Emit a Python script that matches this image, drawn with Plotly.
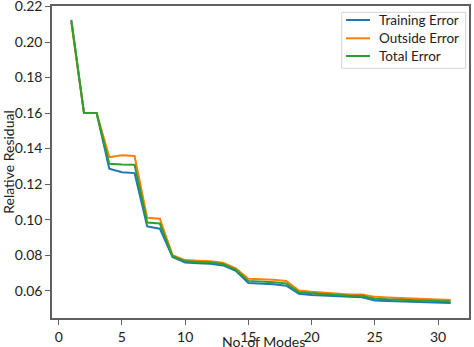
import plotly.graph_objects as go

modes = list(range(1, 32))
training_error = [0.2125, 0.1600, 0.1600, 0.1287, 0.1267, 0.1262, 0.0962, 0.0949, 0.0789, 0.0758,
                  0.0755, 0.0752, 0.0742, 0.0712, 0.0643, 0.0640, 0.0636, 0.0628, 0.0582, 0.0576,
                  0.0572, 0.0566, 0.0565, 0.0563, 0.0545, 0.0542, 0.0540, 0.0537, 0.0535, 0.0533,
                  0.0531]
outside_error = [0.2110, 0.1600, 0.1600, 0.1352, 0.1362, 0.1358, 0.1010, 0.1005, 0.0800, 0.0772,
                 0.0769, 0.0766, 0.0757, 0.0725, 0.0667, 0.0665, 0.0661, 0.0654, 0.0601, 0.0594,
                 0.0588, 0.0580, 0.0578, 0.0579, 0.0565, 0.0561, 0.0558, 0.0555, 0.0552, 0.0550,
                 0.0547]
total_error = [0.2118, 0.1600, 0.1600, 0.1315, 0.1311, 0.1309, 0.0984, 0.0978, 0.0795, 0.0765,
               0.0762, 0.0759, 0.0750, 0.0718, 0.0655, 0.0652, 0.0648, 0.0641, 0.0591, 0.0585,
               0.0580, 0.0573, 0.0571, 0.0571, 0.0555, 0.0551, 0.0549, 0.0546, 0.0543, 0.0541,
               0.0539]

series_names = ["Training Error", "Outside Error", "Total Error"]
series_values = [training_error, outside_error, total_error]
series_colors = ["#1f77b4", "#ff7f0e", "#2ca02c"]

x_ticks = [0, 5, 10, 15, 20, 25, 30]
y_ticks = [0.06, 0.08, 0.10, 0.12, 0.14, 0.16, 0.18, 0.20, 0.22]

W, H = 474, 347
ML, MR, MT, MB = 52, 5, 6, 29
PW, PH = W - ML - MR, H - MT - MB


def px_x(px):
    return (px - ML) / PW


def px_y(py):
    return (H - MB - py) / PH


fig = go.Figure()
for name, vals, color in zip(series_names, series_values, series_colors):
    fig.add_trace(go.Scatter(x=modes, y=vals, mode="lines", name=name,
                             line=dict(color=color, width=2), showlegend=False))

axis_common = dict(showline=True, linecolor="#606060", linewidth=1.5, mirror=True,
                   ticks="outside", ticklen=5, tickwidth=1.2, tickcolor="#606060",
                   showgrid=False, zeroline=False, ticklabeloverflow="allow",
                   tickfont=dict(family="Lato", size=14, color="#222222"))

# manual legend (box, sample lines, labels)
shapes = [dict(type="rect", xref="paper", yref="paper",
               x0=px_x(341.7), x1=px_x(465.7), y0=px_y(68.3), y1=px_y(12.3),
               line=dict(color="#d4d4d4", width=1), fillcolor="white", layer="above")]
annotations = []
row_y = [20, 38.3, 56]
for name, color, ry in zip(series_names, series_colors, row_y):
    shapes.append(dict(type="line", xref="paper", yref="paper",
                       x0=px_x(346), x1=px_x(370), y0=px_y(ry), y1=px_y(ry),
                       line=dict(color=color, width=2), layer="above"))
    annotations.append(dict(text=name, xref="paper", yref="paper",
                            x=px_x(377), y=px_y(ry), xanchor="left", yanchor="middle",
                            showarrow=False, font=dict(family="Lato", size=13.5, color="#222222")))

annotations.append(dict(text="No. of Modes", xref="paper", yref="paper",
                        x=px_x(263), y=px_y(350.5), xanchor="center", yanchor="bottom",
                        showarrow=False, borderpad=0,
                        font=dict(family="Lato", size=14, color="#222222")))

fig.update_layout(
    width=W, height=H,
    margin=dict(l=ML, r=MR, t=MT, b=MB),
    paper_bgcolor="white", plot_bgcolor="white",
    font=dict(family="Lato", size=14, color="#222222"),
    xaxis=dict(range=[-0.53, 32.45], tickvals=x_ticks,
               automargin=False, **axis_common),
    yaxis=dict(range=[0.0446, 0.2203], tickvals=y_ticks, tickformat=".2f",
               title=dict(text="Relative Residual", standoff=4, font=dict(size=14)),
               automargin=False, **axis_common),
    shapes=shapes,
    annotations=annotations,
    showlegend=False,
)

fig.write_html("out.html")
